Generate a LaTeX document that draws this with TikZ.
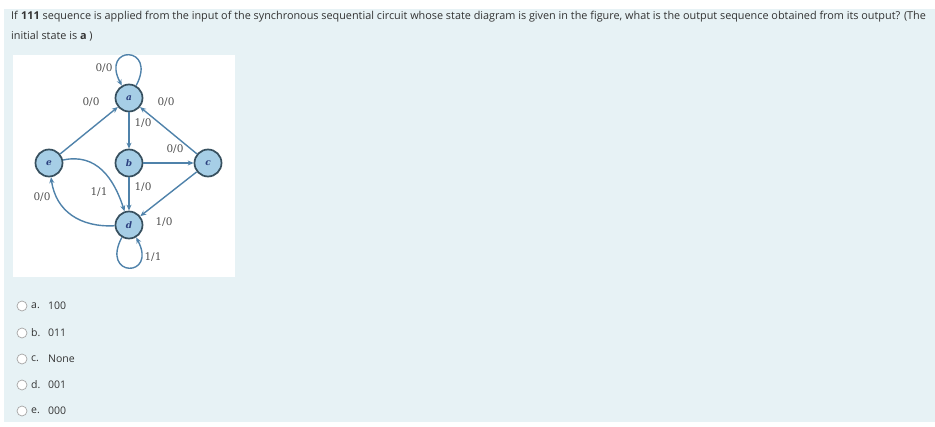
\documentclass[tikz,border=0pt]{standalone}
\usepackage{fontspec}
\setmainfont{Open Sans}
\newfontfamily\lblfont{DejaVu Serif}
\usetikzlibrary{arrows.meta}
\definecolor{panel}{HTML}{E7F2F5}
\definecolor{edgec}{HTML}{4F82AA}
\definecolor{nodefill}{HTML}{A6CEE6}
\definecolor{nodeline}{HTML}{37505F}
\definecolor{lblc}{HTML}{505050}
\definecolor{txt}{HTML}{333333}
\begin{document}
\begin{tikzpicture}[x=1pt,y=1pt,
  state/.style={circle,draw=nodeline,line width=1.7pt,fill=nodefill,minimum size=27pt,inner sep=0pt,font=\lblfont\itshape\bfseries\fontsize{9}{9}\selectfont,text=nodeline!80!blue},
  tr/.style={draw=edgec,line width=1.4pt,-{Stealth[length=6pt,width=5pt]}},
  lbl/.style={font=\lblfont\fontsize{10.5}{10.5}\selectfont,text=lblc,inner sep=0pt},
  q/.style={font=\fontsize{10.85}{12}\selectfont,text=txt,anchor=west,inner sep=0pt},
  radio/.style={circle,draw=gray!70,fill=white,line width=0.7pt,minimum size=10pt,inner sep=0pt},
  opt/.style={font=\fontsize{10.5}{12}\selectfont,text=txt,anchor=west,inner sep=0pt}]
\useasboundingbox (0,0) rectangle (935,426);
\fill[white] (0,0) rectangle (935,426);
\fill[panel] (4,4) rectangle (935,417);
\node[q] (q1) at (11,409) {If \textbf{111} sequence is applied from the input of the synchronous sequential circuit whose state diagram is given in the figure, what is the output sequence obtained from its output? (The};
\node[q] (q2) at (11,390) {initial state is \textbf{a} )};
\fill[white] (13,149) rectangle (235,371);
\node[state] (a) at (129,328) {a};
\node[state] (b) at (129,263) {b};
\node[state] (c) at (208,263) {c};
\node[state] (e) at (49,263) {e};
\node[state] (d) at (129,201) {d};
\draw[tr] (a.60) .. controls +(62:46) and +(118:46) .. (a.120);
\draw[tr] (e) -- (a);
\draw[tr] (c) -- (a);
\draw[tr] (a) -- (b);
\draw[tr] (b) -- (c);
\draw[tr] (b) -- (d);
\draw[tr] (c) -- (d);
\draw[tr] (e) to[out=12,in=108,looseness=1.1] (d);
\draw[tr] (d) to[out=183,in=278,looseness=1.1] (e);
\draw[tr] (d.240) .. controls +(242:46) and +(298:46) .. (d.300);
\node[lbl] (l1) at (104,358) {0/0};
\node[lbl] (l2) at (91,324) {0/0};
\node[lbl] (l3) at (166,324) {0/0};
\node[lbl] (l4) at (143,303) {1/0};
\node[lbl] (l5) at (175,277) {0/0};
\node[lbl] (l6) at (99,234) {1/1};
\node[lbl] (l7) at (143,239) {1/0};
\node[lbl] (l8) at (42,229) {0/0};
\node[lbl] (l9) at (164,204) {1/0};
\node[lbl] (l10) at (153,169) {1/1};
\foreach \y/\l/\v [count=\i] in {120/a./100,93/b./011,67/c./None,41/d./001,15/e./000}{
  \node[radio] (r\i) at (22,\y) {};
  \node[opt] (o\i) at (31,\y) {\l};
  \node[opt] (v\i) at (48,\y) {\v};
}
\end{tikzpicture}
\end{document}
